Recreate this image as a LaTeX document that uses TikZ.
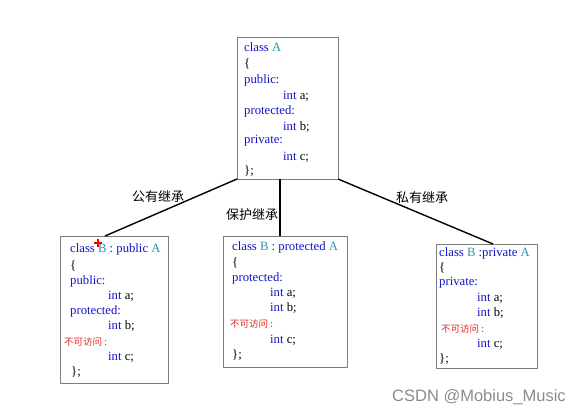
\documentclass[tikz,border=0pt]{standalone}
\usepackage{fontspec}
\setmainfont{Liberation Serif}
\newfontfamily\cjkf{Noto Sans CJK SC}
\newfontfamily\wmf{Liberation Sans}
\definecolor{kwblue}{RGB}{20,20,200}
\definecolor{clsteal}{RGB}{40,150,170}
\definecolor{boxgray}{RGB}{125,125,125}
\definecolor{redtxt}{RGB}{225,40,40}
\newcommand\kwd[1]{\textcolor{kwblue}{#1}}
\newcommand\clsn[1]{\textcolor{clsteal}{#1}}
\begin{document}
\begin{tikzpicture}[x=1pt,y=-1pt,
  codebox/.style={draw=boxgray,line width=1pt},
  code/.style={anchor=west,inner sep=0pt,font=\fontsize{12.7}{14}\selectfont},
  redlbl/.style={anchor=west,inner sep=0pt,text=redtxt,font=\cjkf\fontsize{9.5}{11}\selectfont},
  inhlbl/.style={inner sep=0pt,font=\cjkf\fontsize{13}{15}\selectfont},
  conn/.style={line width=1.4pt,black}]
\useasboundingbox[fill=white] (0,0) rectangle (585,416);
% boxes
\draw[codebox] (237,37) rectangle (338,179);
\coordinate (Abl) at (237,179);
\coordinate (Abm) at (280,179);
\coordinate (Abr) at (338,179);
\draw[codebox] (60,236) rectangle (168,383);
\draw[codebox] (223,236) rectangle (347,367);
\draw[codebox] (436,244) rectangle (537,368);
\coordinate (B1t) at (105,236);
\coordinate (B2t) at (280,236);
\coordinate (B3t) at (493,244);
% connectors
\draw[conn] (Abl) -- (B1t);
\draw[conn] (Abm) -- (B2t);
\draw[conn] (Abr) -- (B3t);
\node[inhlbl] (l1) at (158,197) {公有继承};
\node[inhlbl] (l2) at (252,215) {保护继承};
\node[inhlbl] (l3) at (422,198) {私有继承};
% class A
\node[code] (a1) at (244,47) {\kwd{class} \clsn{A}};
\node[code] (a2) at (244,64) {\{};
\node[code] (a3) at (244,80) {\kwd{public:}};
\node[code] (a4) at (283,96) {\kwd{int} a;};
\node[code] (a5) at (244,111) {\kwd{protected:}};
\node[code] (a6) at (283,127) {\kwd{int} b;};
\node[code] (a7) at (244,141) {\kwd{private:}};
\node[code] (a8) at (283,157) {\kwd{int} c;};
\node[code] (a9) at (244,171) {\};};
% box 1
\node[code] (b1) at (70,249) {\kwd{class} \clsn{B} \kwd{: public} \clsn{A}};
\node[code] (b2) at (70,266) {\{};
\node[code] (b3) at (70,281) {\kwd{public:}};
\node[code] (b4) at (108,296) {\kwd{int} a;};
\node[code] (b5) at (70,311) {\kwd{protected:}};
\node[code] (b6) at (108,326) {\kwd{int} b;};
\node[redlbl] (b7) at (64,342) {不可访问 :};
\node[code] (b8) at (108,357) {\kwd{int} c;};
\node[code] (b9) at (71,372) {\};};
\draw[red,line width=1.3pt] (94,243) -- (102,243) (98,239) -- (98,247);
% box 2
\node[code] (c1) at (232,247) {\kwd{class} \clsn{B} \kwd{: protected} \clsn{A}};
\node[code] (c2) at (232,263) {\{};
\node[code] (c3) at (232,278) {\kwd{protected:}};
\node[code] (c4) at (270,293) {\kwd{int} a;};
\node[code] (c5) at (270,308) {\kwd{int} b;};
\node[redlbl] (c6) at (230,324) {不可访问 :};
\node[code] (c7) at (270,340) {\kwd{int} c;};
\node[code] (c8) at (232,355) {\};};
% box 3
\node[code] (d1) at (439,253) {\kwd{class} \clsn{B} \kwd{:private} \clsn{A}};
\node[code] (d2) at (439,268) {\{};
\node[code] (d3) at (439,283) {\kwd{private:}};
\node[code] (d4) at (477,298) {\kwd{int} a;};
\node[code] (d5) at (477,313) {\kwd{int} b;};
\node[redlbl] (d6) at (441,329) {不可访问 :};
\node[code] (d7) at (477,344) {\kwd{int} c;};
\node[code] (d8) at (439,359) {\};};
% watermark
\node[anchor=west,inner sep=0pt,text=black!45,font=\wmf\fontsize{16.5}{18}\selectfont] (wm) at (392,397) {CSDN @Mobius\_Music};
\end{tikzpicture}
\end{document}
